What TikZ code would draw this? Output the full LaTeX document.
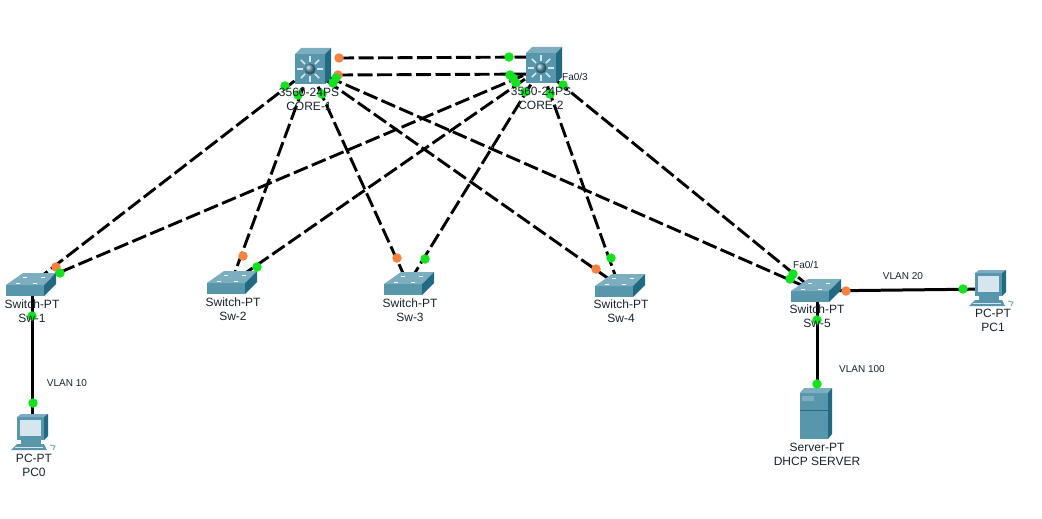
\documentclass[tikz,border=0pt]{standalone}
\definecolor{ptfront}{RGB}{88, 150, 172}
\definecolor{pttop}{RGB}{124, 174, 192}
\definecolor{ptside}{RGB}{34, 106, 130}
\definecolor{ptscreen}{RGB}{214, 230, 238}
\definecolor{portgreen}{RGB}{20, 226, 32}
\definecolor{portorange}{RGB}{246, 130, 66}
\definecolor{ptink}{RGB}{25, 35, 45}
\usepackage{fontspec}
\setmainfont{Liberation Sans}
\usepackage{tikz}
\usetikzlibrary{positioning, calc}
\tikzset{
  devbox/.style={inner sep=0pt, minimum size=2pt},
  devlabel/.style={align=center, text=ptink, font=\fontsize{12}{14}\selectfont, inner sep=0pt},
  vlanlabel/.style={text=ptink, font=\fontsize{10}{12}\selectfont, inner sep=0pt},
  trunk/.style={line width=2.9pt, dash pattern=on 15pt off 4.5pt, black},
  access/.style={line width=3pt, black},
  portg/.style={circle, fill=portgreen, inner sep=0pt, minimum size=9.5pt},
  porto/.style={circle, fill=portorange, inner sep=0pt, minimum size=9.5pt},
  switchicon/.pic={
    \fill[ptfront] (-24,0) rectangle (14,11);
    \fill[pttop] (-24,0) -- (-7,-12) -- (26,-12) -- (14,0) -- cycle;
    \fill[ptside] (14,0) -- (26,-12) -- (26,-1) -- (14,11) -- cycle;
    \foreach \dx/\dy in {-14/-2, 3/-2, -7/-8, 11/-8}
      \fill[white] (\dx,\dy) rectangle ++(4,1.2);
  },
  coreicon/.pic={
    \fill[ptfront] (-15,-15) rectangle (15,15);
    \fill[pttop] (-15,-15) -- (-9,-21) -- (21,-21) -- (15,-15) -- cycle;
    \fill[ptside] (15,-15) -- (21,-21) -- (21,9) -- (15,15) -- cycle;
    \foreach \a in {0,45,...,315}
      \draw[ptscreen, line width=1.5pt] (\a:7) -- (\a:13);
    \shade[ball color=ptfront] (0,0) circle (5.5);
  },
  pcicon/.pic={
    \fill[ptfront] (0,3) rectangle (27,26);
    \fill[pttop] (0,3) -- (4,0) -- (31,0) -- (27,3) -- cycle;
    \fill[ptside] (27,3) -- (31,0) -- (31,22) -- (27,26) -- cycle;
    \fill[ptscreen] (3,6) rectangle (24,22);
    \fill[ptfront] (4,26) rectangle (24,30);
    \fill[ptfront] (-6,36) -- (0,30) -- (27,30) -- (30,36) -- cycle;
    \draw[ptscreen, line width=0.8pt] (-2,33) -- (26,33);
    \draw[pttop, line width=1pt] (33,31) -- (38,32) -- (36,36);
  },
  servericon/.pic={
    \fill[ptfront] (0,5) rectangle (28,51);
    \fill[pttop] (0,5) -- (4,0) -- (32,0) -- (28,5) -- cycle;
    \fill[ptside] (28,5) -- (32,0) -- (32,46) -- (28,51) -- cycle;
    \fill[pttop] (2,8) rectangle (14,13);
    \draw[ptside, line width=0.5pt] (0,22) -- (28,22);
  }
}

\begin{document}
\begin{tikzpicture}[x=1pt, y=-1pt]
  \useasboundingbox[fill=white] (0,0) rectangle (1042,519);

  \node[devbox] (core1) at (310,69) {};
  \node[devbox] (core2) at (541,68) {};
  \node[devbox] (sw1) at (30,285) {};
  \node[devbox] (sw2) at (231,283) {};
  \node[devbox] (sw3) at (408,284) {};
  \node[devbox] (sw4) at (619,286) {};
  \node[devbox] (sw5) at (815,291) {};
  \node[devbox] (pc0) at (32,430) {};
  \node[devbox] (pc1) at (990,289) {};
  \node[devbox] (srv) at (817,415) {};

  \coordinate (coreatop) at (339,58);
  \coordinate (corebtop) at (509,57);
  \coordinate (corealow) at (338,75);
  \coordinate (coreblow) at (509,74);

  \draw[trunk] (coreatop) -- (core2.center |- corebtop);
  \draw[trunk] (corealow) -- (core2.center |- coreblow);
  \foreach \a/\b in {core1/sw1, core1/sw2, core1/sw3, core1/sw4, core1/sw5,
                     core2/sw1, core2/sw2, core2/sw3, core2/sw4, core2/sw5}
    \draw[trunk] (\a.center) -- (\b.center);
  \draw[access] (pc0.center) -- (pc0.center |- sw1.center);
  \draw[access] (srv.center) -- (srv.center |- sw5.center);
  \draw[access] (sw5.center) -- (pc1.center);

  \pic at (core1) {coreicon};
  \pic at (core2) {coreicon};
  \foreach \s in {sw1, sw2, sw3, sw4, sw5}
    \pic at (\s) {switchicon};
  \pic at (17,414) {pcicon};
  \pic at (975,270) {pcicon};
  \pic at (800,388) {servericon};

  \foreach \n/\x/\y in {pa1/339/58, pa2/338/75, ps1a/56/267, ps2a/243/256, ps3a/397/258, ps4a/596/269, ps5o/846/291}
    \node[porto] (\n) at (\x,\y) {};
  \foreach \n/\x/\y in {pb1/509/57, pb2/510/75, pb3/513/78, pb4/516/83, pb5/525/92, pb6/550/94, pb7/563/85,
                        pc1a/285/86, pc2a/298/95, pc3a/322/94, pc4a/336/78, pc5a/333/83,
                        ps1b/60/273, ps2b/257/267, ps3b/425/259, ps4b/611/258, ps5a/793/274, ps5b/790/279,
                        ps1c/32/316, ppc0/33/403, ps5c/817/320, psrv/817/384, ppc1/963/289}
    \node[portg] (\n) at (\x,\y) {};

  \node[devlabel] (core1txt) at (309,99) {3560-24PS\\CORE-1};
  \node[devlabel] (core2txt) at (541,98) {3560-24PS\\CORE-2};
  \node[devlabel] (sw1txt) at (32,311) {Switch-PT\\Sw-1};
  \node[devlabel] (sw2txt) at (233,309) {Switch-PT\\Sw-2};
  \node[devlabel] (sw3txt) at (410,310) {Switch-PT\\Sw-3};
  \node[devlabel] (sw4txt) at (621,311) {Switch-PT\\Sw-4};
  \node[devlabel] (sw5txt) at (817,316) {Switch-PT\\Sw-5};
  \node[devlabel] (pc0txt) at (34,465) {PC-PT\\PC0};
  \node[devlabel] (pc1txt) at (993,320) {PC-PT\\PC1};
  \node[devlabel] (srvtxt) at (817,454) {Server-PT\\DHCP SERVER};
  \node[vlanlabel] (fa03) at (575,77) {Fa0/3};
  \node[vlanlabel] (fa01) at (806,265) {Fa0/1};
  \node[vlanlabel] (vlan10) at (67,383) {VLAN 10};
  \node[vlanlabel] (vlan20) at (903,276) {VLAN 20};
  \node[vlanlabel] (vlan100) at (862,369) {VLAN 100};
\end{tikzpicture}
\end{document}
